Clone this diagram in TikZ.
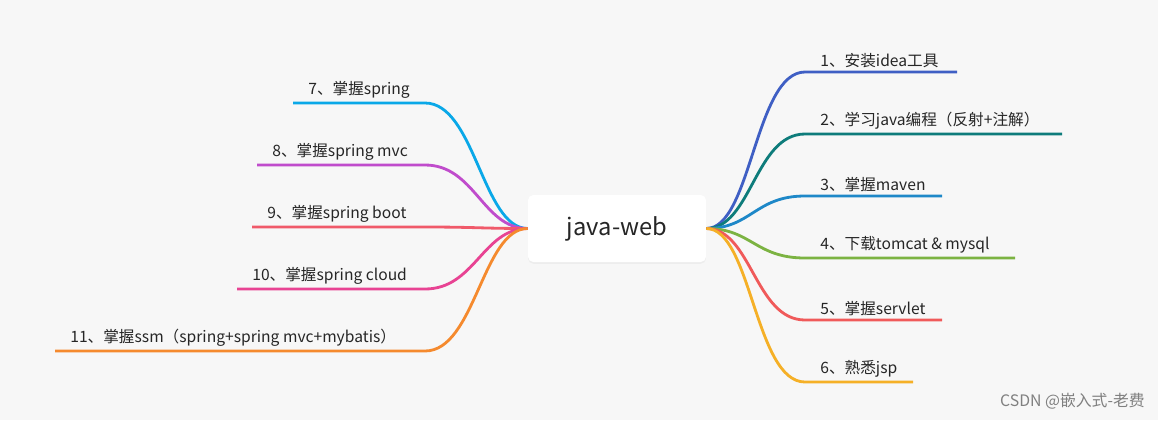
\documentclass[tikz,border=0pt]{standalone}
\usepackage{fontspec}
\setmainfont{Noto Sans CJK SC}
\usetikzlibrary{positioning,shadows}
\definecolor{bgc}{HTML}{F7F7F7}
\definecolor{cA}{HTML}{3F5FC4}
\definecolor{cB}{HTML}{0E7C7B}
\definecolor{cC}{HTML}{1E88C8}
\definecolor{cD}{HTML}{7CB342}
\definecolor{cE}{HTML}{F05A5A}
\definecolor{cF}{HTML}{F5B027}
\definecolor{cG}{HTML}{0AA8E8}
\definecolor{cH}{HTML}{C04CCC}
\definecolor{cI}{HTML}{F05A6A}
\definecolor{cJ}{HTML}{E84393}
\definecolor{cK}{HTML}{F58A2E}
\tikzset{
  branch/.style={line width=1.6pt},
  leaf/.style={inner sep=0pt,font=\fontsize{8.9}{10}\selectfont,text=black!85},
  rootbox/.style={fill=white,rounded corners=3pt,minimum width=3.56cm,minimum height=1.34cm,
    drop shadow={shadow xshift=0pt,shadow yshift=-1pt,opacity=0.08},font=\fontsize{13.5}{16}\selectfont,text=black!85}
}
\begin{document}
\begin{tikzpicture}[x=0.02cm,y=-0.02cm]
  \fill[bgc] (0,0) rectangle (1158,420);
  \node[rootbox] (root) at (617,228.5) {java-web};

  % right side
  \foreach \i/\yy/\xe/\col/\txt in {1/72/957/cA/{1、安装idea工具},
      2/134/1062/cB/{2、学习java编程（反射+注解）},
      3/196/942/cC/{3、掌握maven},
      4/258/1015/cD/{4、下载tomcat \& mysql},
      5/320/942/cE/{5、掌握servlet},
      6/382/913/cF/{6、熟悉jsp}}{
    \coordinate (s\i) at (805,\yy);
    \coordinate (e\i) at (\xe,\yy);
    \node[leaf,anchor=south west] (l\i) at (820,\yy-4) {\txt};
    \draw[branch,\col] (root.east) .. controls +(45,0) and +(-50,0) .. (s\i) -- (e\i);
  }

  % left side
  \foreach \i/\yy/\xe/\col/\txt in {7/103/293/cG/{7、掌握spring},
      8/165/257/cH/{8、掌握spring mvc},
      9/227/252/cI/{9、掌握spring boot},
      10/289/237/cJ/{10、掌握spring cloud},
      11/351/55/cK/{11、掌握ssm（spring+spring mvc+mybatis）}}{
    \coordinate (s\i) at (425,\yy);
    \coordinate (e\i) at (\xe,\yy);
    \node[leaf,anchor=south west] (l\i) at (\xe+15,\yy-4) {\txt};
    \draw[branch,\col] (root.west) .. controls +(-45,0) and +(50,0) .. (s\i) -- (e\i);
  }

  \node[leaf,anchor=south east,text=black!50,font=\fontsize{9}{10}\selectfont] (mark) at (1145,410) {CSDN @嵌入式-老费};
\end{tikzpicture}
\end{document}
